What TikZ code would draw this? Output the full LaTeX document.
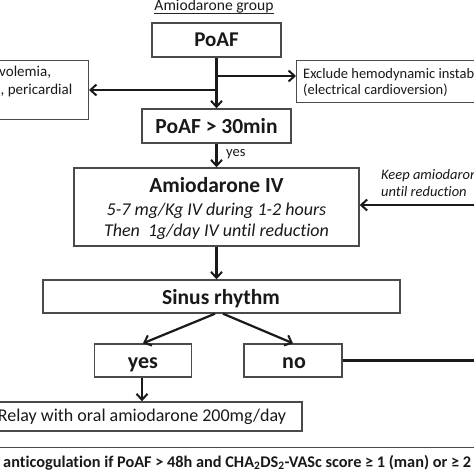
\documentclass[tikz,border=0pt]{standalone}
\usepackage{fontspec}
\setmainfont{Carlito}[Ligatures=NoCommon]
\usetikzlibrary{arrows.meta,calc}
\definecolor{boxgray}{HTML}{4A4A4A}
\definecolor{arrowblk}{HTML}{1A1A1A}
\newcommand\fsz[1]{\fontsize{#1}{#1}\selectfont}
\begin{document}
\begin{tikzpicture}[x=1pt,y=-1pt,
  box/.style={draw=boxgray, line width=1.4pt, inner sep=0pt, fill=white},
  conn/.style={line width=2.2pt, draw=arrowblk, -{Straight Barb[length=6pt,width=11pt,line width=2pt]}},
  plainline/.style={line width=2.2pt, draw=arrowblk},
  txt/.style={inner sep=0pt, anchor=base, text=black!90},
  txtw/.style={inner sep=0pt, anchor=base west, text=black!90},
  bigb/.style={font=\fsz{21.5}\bfseries},
  itl/.style={font=\fsz{18}\itshape},
  small/.style={font=\fsz{14.5}},
]
\useasboundingbox (0,0) rectangle (474,474);
\clip (0,0) rectangle (474,474);
\fill[white] (0,0) rectangle (474,474);

% title
\node[txt, font=\fsz{15.6}] (title) at (214,10.8) {Amiodarone group};
\draw[line width=0.9pt, black!85] ($(title.base west)+(0,2.2)$) -- ($(title.base east)+(0,2.2)$);

% PoAF
\node[box, minimum width=129pt, minimum height=34pt] (poaf) at (216.5,40) {};
\node[txt, font=\fsz{21}\bfseries] (poaft) at (216.5,46.7) {PoAF};

% left box
\node[box, anchor=north east, minimum width=160pt, minimum height=59pt] (lbox) at (89,60) {};
\node[txtw, font=\fsz{15}] (lboxt1) at (-1,76.7) {volemia,};
\node[txtw, font=\fsz{15}] (lboxt2) at (0.5,94.3) {, pericardial};

% right box
\node[box, anchor=north west, minimum width=220pt, minimum height=42pt] (rbox) at (296,60) {};
\node[txtw, small] (rboxt1) at (303,78.3) {Exclude hemodynamic instab};
\node[txtw, small] (rboxt2) at (303,94.3) {(electrical cardioversion)};

% PoAF > 30min
\node[box, minimum width=149pt, minimum height=34pt] (p30) at (216.5,126) {};
\node[txt, bigb] (p30t) at (216.5,133.3) {PoAF > 30min};

% branches from PoAF
\coordinate (br) at (216.5,76);
\coordinate (bl) at (216.5,90);
\draw[conn] (poaf.south) -- (p30.north);
\draw[conn] (br) -- (br -| rbox.west);
\draw[conn] (bl) -- (bl -| lbox.east);

% yes label
\node[txtw, small] (yeslbl) at (226,156) {yes};

% Amiodarone IV
\node[box, minimum width=285pt, minimum height=78pt] (amio) at (216.5,207) {};
\node[txt, bigb] (amiot1) at (216.5,192.7) {Amiodarone IV};
\node[txt, itl] (amiot2) at (216.5,215.7) {5-7 mg/Kg IV during 1-2 hours};
\node[txt, itl] (amiot3) at (216.5,236.7) {Then\ \ 1g/day IV until reduction};
\draw[conn] (p30.south) -- (amio.north);

% keep amiodarone
\node[txtw, font=\fsz{14.5}\itshape] (keep1) at (381,179.3) {Keep amiodarone};
\node[txtw, font=\fsz{14.5}\itshape] (keep2) at (381,196.7) {until reduction};
\coordinate (keepstart) at (480,205);
\draw[conn] (keepstart) -- (keepstart -| amio.east);

% Sinus rhythm
\node[box, minimum width=357pt, minimum height=33pt] (sinus) at (221.5,296.5) {};
\node[txt, bigb] (sinust) at (221,304.3) {Sinus rhythm};
\draw[conn] (amio.south) -- (amio.south |- sinus.north);

% yes / no
\node[box, minimum width=97pt, minimum height=33pt] (yesb) at (143,360.5) {};
\node[txt, font=\fsz{22}\bfseries] (yesbt) at (143,368) {yes};
\node[box, minimum width=98pt, minimum height=33pt] (nob) at (293,360.5) {};
\node[txt, font=\fsz{22}\bfseries] (nobt) at (294,368) {no};
\draw[conn] ($(sinus.south)+(-6.5,0)$) -- (yesb.north);
\draw[conn] ($(sinus.south)+(1.5,0)$) -- (nob.north);
\coordinate (noend) at (480,360.5);
\draw[plainline] (nob.east) -- (noend);

% relay
\node[box, minimum width=320pt, minimum height=29pt] (relay) at (142,416.5) {};
\node[txt, font=\fsz{18}] (relayt) at (142,421.7) {Relay with oral amiodarone 200mg/day};
\draw[conn] (yesb.south -| relay.north) -- (relay.north);

% bottom box
\node[box, anchor=north west, minimum width=500pt, minimum height=60pt] (bottom) at (-10,447) {};
\node[txtw, font=\fsz{16.3}\bfseries] (bottomt) at (3,467) {anticogulation if PoAF > 48h and CHA\textsubscript{2}DS\textsubscript{2}-VASc score ≥ 1 (man) or ≥ 2};
\end{tikzpicture}
\end{document}
